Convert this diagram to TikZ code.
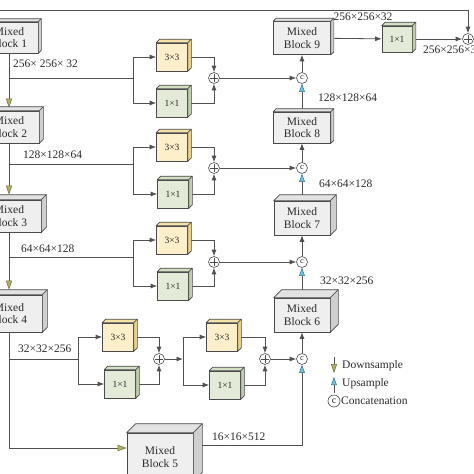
\documentclass[tikz,border=0pt]{standalone}
\usepackage{fontspec}
\setmainfont{Liberation Serif}
\usetikzlibrary{arrows.meta,calc}
\definecolor{ln}{HTML}{505050}
\definecolor{bd}{HTML}{4a4a4a}
\definecolor{tx}{HTML}{2a2a2a}
\definecolor{mbfront}{HTML}{EFEFEF}
\definecolor{mbtop}{HTML}{E2E2E2}
\definecolor{mbside}{HTML}{CFCFCF}
\definecolor{yfront}{HTML}{FCEFC9}
\definecolor{ytop}{HTML}{F6E2A6}
\definecolor{yside}{HTML}{E9D28E}
\definecolor{gfront}{HTML}{E3EBD8}
\definecolor{gtop}{HTML}{D3DFC3}
\definecolor{gside}{HTML}{BFCDAB}
\definecolor{dfill}{HTML}{B0B06A}
\definecolor{ddraw}{HTML}{6E6E30}
\definecolor{ufill}{HTML}{6EC3E0}
\definecolor{udraw}{HTML}{2E6E86}
\newcommand\cubefaces[3]{%
  \filldraw[draw=bd,line width=0.6pt,fill=#3top,line join=round] (#1.north west) -- ++(#2pt,#2pt) -- ([shift={(#2pt,#2pt)}]#1.north east) -- (#1.north east) -- cycle;
  \filldraw[draw=bd,line width=0.6pt,fill=#3side,line join=round] (#1.north east) -- ++(#2pt,#2pt) -- ([shift={(#2pt,#2pt)}]#1.south east) -- (#1.south east) -- cycle;}
\begin{document}
\begin{tikzpicture}[x=1pt,y=-1pt,
  mb/.style={draw=bd, line width=0.6pt, fill=mbfront, inner sep=0pt, align=center, text=tx, font=\fontsize{11.5}{12.5}\selectfont},
  k3/.style={draw=bd, line width=0.6pt, fill=yfront, inner sep=0pt, minimum width=31pt, minimum height=28pt, text=tx, font=\fontsize{9.5}{10}\selectfont},
  k1/.style={draw=bd, line width=0.6pt, fill=gfront, inner sep=0pt, minimum width=31pt, minimum height=28pt, text=tx, font=\fontsize{9.5}{10}\selectfont},
  lab/.style={inner sep=0pt, text=tx, font=\fontsize{11.5}{12.5}\selectfont},
  junc/.style={circle, draw=bd, line width=0.6pt, fill=white, minimum size=11pt, inner sep=0pt, text=tx, font=\fontsize{8.5}{8.5}\selectfont},
  plus/.style={junc, path picture={\draw[bd,line width=0.6pt] ([xshift=-4pt]path picture bounding box.center) -- ([xshift=4pt]path picture bounding box.center) ([yshift=-4pt]path picture bounding box.center) -- ([yshift=4pt]path picture bounding box.center);}},
  conn/.style={draw=ln, line width=0.8pt},
  arr/.style={conn, -{Latex[length=6.5pt,width=5pt]}},
  dn/.style={conn, -{Triangle[length=9pt,width=6pt,fill=dfill,color=ddraw,line width=0.5pt]}},
  up/.style={conn, -{Triangle[length=8pt,width=5.5pt,fill=ufill,color=udraw,line width=0.5pt]}}]
\useasboundingbox (0,0) rectangle (474,474);
\clip (0,0) rectangle (474,474);

% mixed blocks
\node[mb, minimum width=58pt, minimum height=31pt] (b1) at (9,37.5) {Mixed\\Block 1};
\node[mb, minimum width=60pt, minimum height=32pt] (b2) at (9,127) {Mixed\\Block 2};
\node[mb, minimum width=64pt, minimum height=32pt] (b3) at (9,216) {Mixed\\Block 3};
\node[mb, minimum width=66pt, minimum height=37pt] (b4) at (9,313.5) {Mixed\\Block 4};
\node[mb, minimum width=66pt, minimum height=48pt] (b5) at (160,457) {Mixed\\Block 5};
\node[mb, minimum width=56pt, minimum height=34pt] (b6) at (302,315) {Mixed\\Block 6};
\node[mb, minimum width=56pt, minimum height=34pt] (b7) at (302,218) {Mixed\\Block 7};
\node[mb, minimum width=57pt, minimum height=31pt] (b8) at (302,127.5) {Mixed\\Block 8};
\node[mb, minimum width=57pt, minimum height=33pt] (b9) at (302,38) {Mixed\\Block 9};

% conv boxes
\node[k3] (a1) at (172,57) {3\texttimes3};
\node[k1] (o1) at (172,103) {1\texttimes1};
\node[k3] (a2) at (172,147) {3\texttimes3};
\node[k1] (o2) at (173,194) {1\texttimes1};
\node[k3] (a3) at (172,240) {3\texttimes3};
\node[k1] (o3) at (173,286) {1\texttimes1};
\node[k3] (a4) at (118,337) {3\texttimes3};
\node[k1] (o4) at (120,384) {1\texttimes1};
\node[k3] (a5) at (222,337) {3\texttimes3};
\node[k1] (o5) at (225,385) {1\texttimes1};
\node[k1, minimum width=30pt, minimum height=26pt] (f) at (397,39) {1\texttimes1};

% junctions
\node[plus] (p1) at (214,78) {};
\node[plus] (p2) at (214,168) {};
\node[plus] (p3) at (214,262) {};
\node[plus] (p4) at (159,359) {};
\node[plus] (p5) at (265,359) {};
\node[plus] (pout) at (468,39) {};
\node[junc] (c9) at (302,78) {c};
\node[junc] (c8) at (302,168) {c};
\node[junc] (c7) at (302,262) {c};
\node[junc] (c6) at (302,359) {c};

% coordinates
\coordinate (s1) at (9,78);   \coordinate (j1) at (133,78);
\coordinate (s2) at (9,164);  \coordinate (j2) at (133,164);
\coordinate (s3) at (9,257);  \coordinate (j3) at (133,257);
\coordinate (s4) at (9,359);  \coordinate (j4) at (78,359);
\coordinate (j5) at (183,359);
\coordinate (k5) at (9,448);
\coordinate (k6) at (302,445);
\coordinate (t0) at (0,10);

% spine
\draw[dn] (b1) -- ([yshift=3pt]b2.north);
\draw[dn] (b2) -- ([yshift=5pt]b3.north);
\draw[dn] (b3) -- ([yshift=5pt]b4.north);
\draw[dn] (b4) -- (k5) -- (k5 -| b5.west);

% rows
\draw[conn] (s1) -- (j1); \draw[arr] (j1) |- (a1); \draw[arr] (j1) |- (o1);
\draw[arr] (a1) -| (p1); \draw[arr] (o1) -| (p1); \draw[arr] (p1) -- (c9);
\draw[conn] (s2) -- (j2); \draw[arr] (j2) |- (a2); \draw[arr] (j2) |- (o2);
\draw[arr] (a2) -| (p2); \draw[arr] (o2) -| (p2); \draw[arr] (p2) -- (c8);
\draw[conn] (s3) -- (j3); \draw[arr] (j3) |- (a3); \draw[arr] (j3) |- (o3);
\draw[arr] (a3) -| (p3); \draw[arr] (o3) -| (p3); \draw[arr] (p3) -- (c7);
\draw[conn] (s4) -- (j4); \draw[arr] (j4) |- (a4); \draw[arr] (j4) |- (o4);
\draw[arr] (a4) -| (p4); \draw[arr] (o4) -| (p4); \draw[arr] (p4) -- (j5);
\draw[arr] (j5) |- (a5); \draw[arr] (j5) |- (o5);
\draw[arr] (a5) -| (p5); \draw[arr] (o5) -| (p5); \draw[arr] (p5) -- (c6);

% decoder column
\draw[up] (k6 -| b5.east) -- (k6) -- (c6);
\draw[arr] (c6) -- (b6);
\draw[up] (b6) -- (c7);
\draw[arr] (c7) -- (b7);
\draw[up] (b7) -- (c8);
\draw[arr] (c8) -- (b8);
\draw[up] (b8) -- (c9);
\draw[arr] (c9) -- (b9);
\draw[arr] (b9) -- (f);
\draw[arr] (f) -- (pout);
\draw[arr] (t0) -| (pout);

% 3D faces
\cubefaces{b1}{3}{mb}
\cubefaces{b2}{4}{mb}
\cubefaces{b3}{5}{mb}
\cubefaces{b4}{5}{mb}
\cubefaces{b5}{9}{mb}
\cubefaces{b6}{8}{mb}
\cubefaces{b7}{6}{mb}
\cubefaces{b8}{3}{mb}
\cubefaces{b9}{3}{mb}
\cubefaces{a1}{3.5}{y}
\cubefaces{a2}{3.5}{y}
\cubefaces{a3}{3.5}{y}
\cubefaces{a4}{3.5}{y}
\cubefaces{a5}{3.5}{y}
\cubefaces{o1}{3.5}{g}
\cubefaces{o2}{3.5}{g}
\cubefaces{o3}{3.5}{g}
\cubefaces{o4}{3.5}{g}
\cubefaces{o5}{3.5}{g}
\cubefaces{f}{3.5}{g}

% labels
\node[lab, anchor=west] (l1) at (13,64) {256\texttimes{} 256\texttimes{} 32};
\node[lab, anchor=west] (l2) at (23,155) {128\texttimes128\texttimes64};
\node[lab, anchor=west] (l3) at (21,249) {64\texttimes64\texttimes128};
\node[lab, anchor=west] (l4) at (18,349) {32\texttimes32\texttimes256};
\node[lab, anchor=west] (l5) at (212,437) {16\texttimes16\texttimes512};
\node[lab, anchor=west] (l6) at (320,281) {32\texttimes32\texttimes256};
\node[lab, anchor=west] (l7) at (319,184) {64\texttimes64\texttimes128};
\node[lab, anchor=west] (l8) at (318,98) {128\texttimes128\texttimes64};
\node[lab] (l9) at (363,17) {256\texttimes256\texttimes32};
\node[lab, anchor=west] (l10) at (423,50) {256\texttimes256\texttimes3};

% legend
\coordinate (ld1) at (334,357); \coordinate (ld2) at (334,373);
\draw[dn] (ld1) -- (ld2);
\node[lab, anchor=west] (lt1) at (342,366) {Downsample};
\coordinate (lu1) at (334,393); \coordinate (lu2) at (334,377);
\draw[up] (lu1) -- (lu2);
\node[lab, anchor=west] (lt2) at (342,384) {Upsample};
\node[junc, minimum size=12pt, font=\fontsize{10}{10}\selectfont] (lc) at (334,401) {c};
\node[lab, anchor=west] (lt3) at (341,401) {Concatenation};
\end{tikzpicture}
\end{document}
